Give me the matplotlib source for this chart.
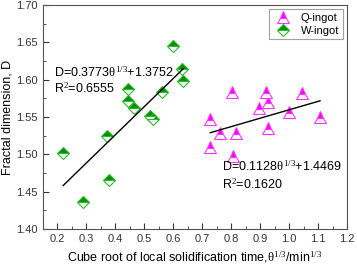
import numpy as np
import matplotlib
matplotlib.use('Agg')
import matplotlib.pyplot as plt
from matplotlib.ticker import MultipleLocator

plt.rcParams['font.family'] = ['Liberation Sans', 'DejaVu Sans']
plt.rcParams['mathtext.fontset'] = 'custom'
plt.rcParams['mathtext.rm'] = 'Liberation Serif'
plt.rcParams['mathtext.it'] = 'Liberation Serif'

# W-ingot data (green diamonds)
w_x = [0.22, 0.29, 0.37, 0.38, 0.445, 0.445, 0.465, 0.52, 0.53, 0.56, 0.60, 0.63, 0.635]
w_y = [1.502, 1.436, 1.525, 1.466, 1.588, 1.571, 1.562, 1.552, 1.548, 1.584, 1.645, 1.615, 1.598]

# Q-ingot data (magenta triangles)
q_x = [0.728, 0.728, 0.762, 0.803, 0.807, 0.817, 0.897, 0.921, 0.928, 0.928, 1.0, 1.045, 1.107]
q_y = [1.547, 1.510, 1.529, 1.583, 1.498, 1.529, 1.562, 1.583, 1.570, 1.535, 1.557, 1.582, 1.550]

# fitted lines
w_slope, w_icpt, w_r2 = 0.3773, 1.3752, 0.6555
q_slope, q_icpt, q_r2 = 0.1128, 1.4469, 0.1620

fig = plt.figure(figsize=(3.57, 2.66), dpi=100)
ax = fig.add_axes([0.120, 0.139, 0.852, 0.842])

ax.plot(q_x, q_y, linestyle='none', marker='^', markersize=8, fillstyle='top',
        color='#ff00ff', markerfacecoloralt='white', markeredgecolor='#ff33ff',
        markeredgewidth=0.8, label='Q-ingot')
ax.plot(w_x, w_y, linestyle='none', marker='D', markersize=6.5, fillstyle='top',
        color='#009000', markerfacecoloralt='white', markeredgecolor='#2fb82f',
        markeredgewidth=0.8, label='W-ingot')

# regression lines over the data range
xw = np.array([min(w_x), max(w_x)])
ax.plot(xw, w_slope * xw + w_icpt, color='black', lw=1.0)
xq = np.array([min(q_x), max(q_x)])
ax.plot(xq, q_slope * xq + q_icpt, color='black', lw=1.0)

ax.text(0.19, 1.610, r'D=0.3773$\theta^{1/3}$+1.3752', fontsize=9, va='center')
ax.text(0.19, 1.589, r'R$^2$=0.6555', fontsize=9, va='center')
ax.text(0.769, 1.484, r'D=0.1128$\theta^{1/3}$+1.4469', fontsize=9, va='center')
ax.text(0.769, 1.460, r'R$^2$=0.1620', fontsize=9, va='center')

ax.set_xlim(0.15, 1.2)
ax.set_ylim(1.40, 1.70)
ax.set_xticks(np.arange(0.2, 1.21, 0.1))
ax.set_xticklabels(['%.1f' % v for v in np.arange(0.2, 1.21, 0.1)])
ax.set_yticks(np.arange(1.40, 1.701, 0.05))
ax.set_yticklabels(['%.2f' % v for v in np.arange(1.40, 1.701, 0.05)])
ax.xaxis.set_minor_locator(MultipleLocator(0.05))
ax.yaxis.set_minor_locator(MultipleLocator(0.025))
ax.tick_params(which='both', direction='in', labelsize=8, colors='#333333')
ax.tick_params(which='major', length=4)
ax.tick_params(which='minor', length=2)
for s in ax.spines.values():
    s.set_color('#555555')

ax.set_xlabel(r'Cube root of local solidification time,$\theta^{1/3}$/min$^{1/3}$', fontsize=9)
ax.set_ylabel('Fractal dimension, D', fontsize=9, labelpad=2)

leg = ax.legend(loc='upper right', fontsize=8, fancybox=False, edgecolor='#888888',
                borderpad=0.3, handletextpad=0.6, labelspacing=0.3, borderaxespad=0.4)
leg.get_frame().set_linewidth(0.8)

fig.savefig('out.png', dpi=100)
